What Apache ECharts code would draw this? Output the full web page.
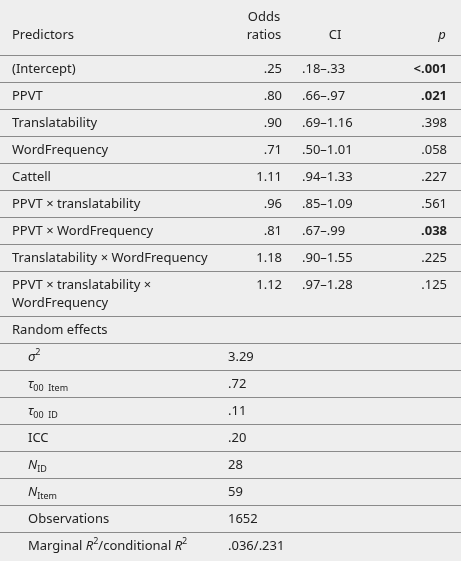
<!DOCTYPE html>
<html lang="en">
<head>
  <meta charset="UTF-8">
  <title>Odds ratios table</title>
  <script src="https://cdn.jsdelivr.net/npm/echarts@6/dist/echarts.min.js"></script>
  <style>body{margin:0;background:#eeeeee}</style>
</head>
<body>
  <div id="main" style="width:461px;height:561px"></div>
  <script>
    // table data
    const predictors = ['(Intercept)', 'PPVT', 'Translatability', 'WordFrequency', 'Cattell',
      'PPVT × translatability', 'PPVT × WordFrequency', 'Translatability × WordFrequency',
      'PPVT × translatability ×\nWordFrequency']
    const oddsRatios = ['.25', '.80', '.90', '.71', '1.11', '.96', '.81', '1.18', '1.12']
    const ciValues = ['.18–.33', '.66–.97', '.69–1.16', '.50–1.01', '.94–1.33', '.85–1.09', '.67–.99', '.90–1.55', '.97–1.28']
    const pValues = ['<.001', '.021', '.398', '.058', '.227', '.561', '.038', '.225', '.125']
    const pBold = [true, true, false, false, false, false, true, false, false]
    // random effects: label parts [text, style]
    const randomLabels = [
      [['σ', 'i'], ['2', 'sup']],
      [['τ', 'i'], ['00  Item', 'sub']],
      [['τ', 'i'], ['00  ID', 'sub']],
      [['ICC', 'n']],
      [['N', 'i'], ['ID', 'sub']],
      [['N', 'i'], ['Item', 'sub']],
      [['Observations', 'n']],
      [['Marginal ', 'n'], ['R', 'i'], ['2', 'sup'], ['/conditional ', 'n'], ['R', 'i'], ['2', 'sup']]
    ]
    const randomValues = ['3.29', '.72', '.11', '.20', '28', '59', '1652', '.036/.231']

    const FONT = '"Noto Sans", "Open Sans", sans-serif'
    const COLOR = '#222'
    const LINE = '#8a8a8a'
    const ctx = document.createElement('canvas').getContext('2d')
    function measure(t, size, style) {
      ctx.font = (style === 'i' ? 'italic ' : '') + size + 'px ' + FONT
      return ctx.measureText(t).width
    }

    const els = []
    function text(x, y, t, align, bold, italic, size) {
      els.push({ type: 'text', x: x, y: y, style: {
        text: t, fill: COLOR, font: (italic ? 'italic ' : '') + (bold ? 'bold ' : '') + (size || 13) + 'px ' + FONT,
        textAlign: align || 'left', textVerticalAlign: 'middle', lineHeight: 18 } })
    }
    function hline(y, x1) {
      els.push({ type: 'line', shape: { x1: x1 || 0, y1: y, x2: 461, y2: y }, style: { stroke: LINE, lineWidth: 1 } })
    }
    function parts(x, y, list) {
      list.forEach(function (p) {
        const size = p[1] === 'sub' || p[1] === 'sup' ? 9 : 13
        const dy = p[1] === 'sub' ? 4 : p[1] === 'sup' ? -5 : 0
        text(x, y + dy, p[0], 'left', false, p[1] === 'i', size)
        x += measure(p[0], size, p[1])
      })
    }

    // header
    text(12, 35, 'Predictors')
    text(264, 26, 'Odds\nratios', 'center')
    text(335, 35, 'CI', 'center')
    text(442, 35, 'p', 'center', false, true)
    hline(55.5)

    let y = 69
    predictors.forEach(function (name, i) {
      const two = name.indexOf('\n') >= 0
      text(12, two ? y + 9 : y, name)
      text(282, y, oddsRatios[i], 'right')
      text(302, y, ciValues[i], 'left')
      text(447, y, pValues[i], 'right', pBold[i])
      y += two ? 45 : 27
      hline(y - 13.5)
    })
    text(12, y, 'Random effects')
    y += 27
    hline(y - 13.5)
    randomLabels.forEach(function (lab, i) {
      parts(28, y, lab)
      text(228, y, randomValues[i])
      if (i < randomLabels.length - 1) hline(y + 13.5)
      y += 27
    })

    const myChart = echarts.init(document.getElementById('main'))
    myChart.setOption({ backgroundColor: '#eeeeee', graphic: { elements: els } })
  </script>
</body>
</html>
